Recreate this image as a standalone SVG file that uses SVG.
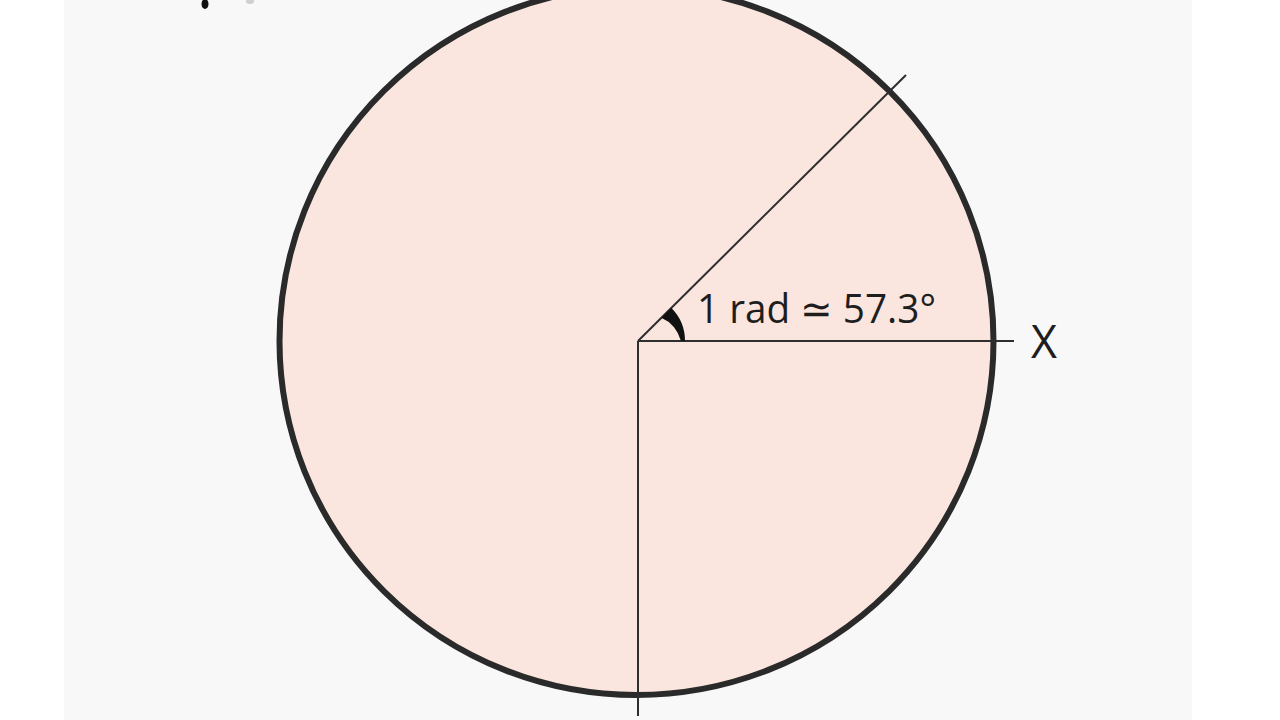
<svg xmlns="http://www.w3.org/2000/svg" width="1280" height="720" viewBox="0 0 1280 720">
  <style>
    .axis { stroke: #2e2e2e; stroke-width: 2; fill: none; }
    .lbl { font-family: "Open Sans", "Noto Sans", "DejaVu Sans", sans-serif; fill: #1e1e1e; }
  </style>
  <rect x="0" y="0" width="1280" height="720" fill="#ffffff"/>
  <rect x="64" y="0" width="1128" height="720" fill="#f8f8f8"/>
  <ellipse cx="205" cy="4" rx="3.5" ry="5" fill="#111"/>
  <ellipse cx="250" cy="1" rx="4" ry="3" fill="#cfcfcf"/>
  <g id="circle">
    <ellipse cx="636.5" cy="341" rx="357" ry="354" fill="#fae6de" stroke="#2a2a2a" stroke-width="6"/>
  </g>
  <g id="connectors">
    <line class="axis" x1="638" y1="341" x2="1014" y2="341"/>
    <line class="axis" x1="638" y1="341" x2="638" y2="716"/>
    <line class="axis" x1="638" y1="341" x2="906" y2="75"/>
  </g>
  <g id="angle">
    <path d="M685,341 A47,47 0 0 0 671.2,307.8 L661.3,317.7 Q676,324 681,341 Z" fill="#111"/>
  </g>
  <g id="label-rad">
    <text class="lbl" x="697" y="323" font-size="40" textLength="239" lengthAdjust="spacingAndGlyphs">1 rad ≃ 57.3°</text>
  </g>
  <g id="label-x">
    <text class="lbl" x="1031" y="358" font-size="45">X</text>
  </g>
</svg>
